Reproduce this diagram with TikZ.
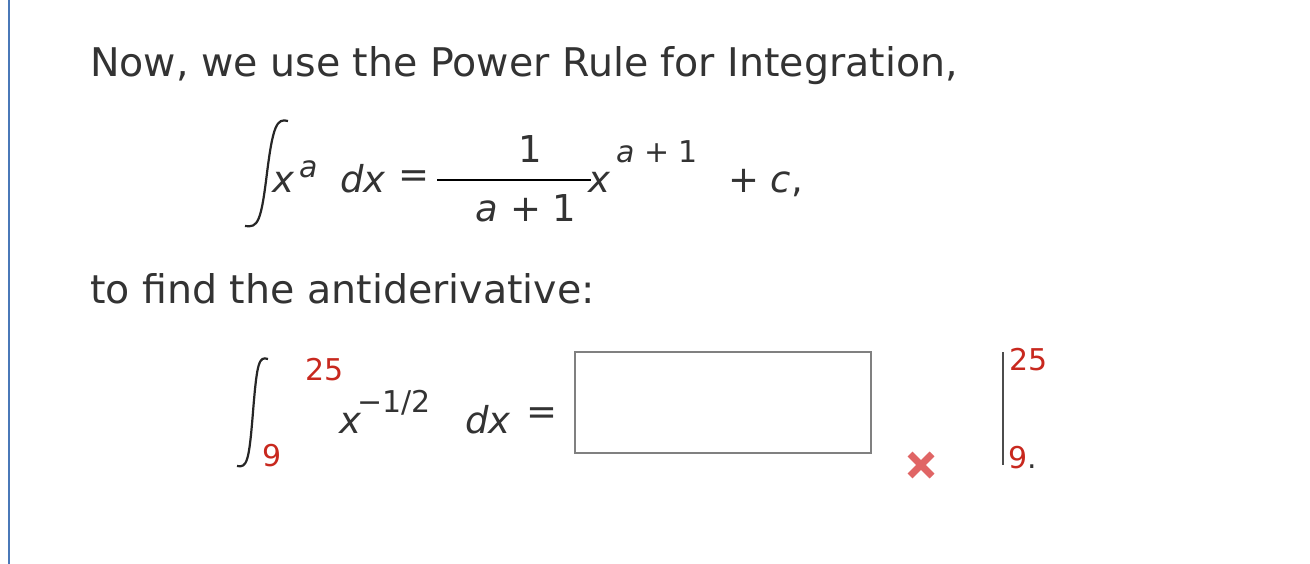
\documentclass[tikz,border=0pt]{standalone}
\usepackage{fontspec}
\setmainfont{DejaVu Sans}
\begin{document}
\begin{tikzpicture}[x=1pt,y=-1pt,
  txt/.style={anchor=base west,inner sep=0pt,text=black!80,font=\fontsize{39.5}{46}\selectfont},
  mt/.style={anchor=base west,inner sep=0pt,text=black!80,font=\fontsize{37}{44}\selectfont},
  sup/.style={anchor=base west,inner sep=0pt,text=black!80,font=\fontsize{30}{36}\selectfont},
  lim/.style={anchor=base west,inner sep=0pt,text=limred,font=\fontsize{30}{36}\selectfont},
  intg/.style={line width=2.2pt,black!85}]
\definecolor{limred}{HTML}{C8281E}
\definecolor{xred}{HTML}{E06565}
\definecolor{barblue}{HTML}{4A78B8}
\useasboundingbox (0,0) rectangle (1310,564);
\fill[white] (0,0) rectangle (1310,564);
\draw[barblue,line width=2pt] (9,0) -- (9,564);
\node[txt] (l1) at (90,77) {Now, we use the Power Rule for Integration,};
% integral 1
\draw[intg] (288,121) .. controls (277,118) and (273,125) .. (267,173) .. controls (261,222) and (258,228) .. (245,226);
\node[mt] (x1) at (272,193) {\itshape x};
\node[sup] (a1) at (299,178) {\itshape a};
\node[mt] (dx1) at (340,193) {\itshape dx};
\node[mt] (eq1) at (398,188) {=};
\draw[black,line width=2pt] (437,180) -- (591,180);
\node[mt,anchor=base] (one) at (530,163) {1};
\node[mt,anchor=base] (den) at (526,222) {\itshape a\upshape\ + 1};
\node[mt] (x2) at (588,193) {\itshape x};
\node[sup] (a2) at (616,163) {\itshape a\upshape\ + 1};
\node[mt] (c1) at (728,193) {+ \itshape c\upshape,};
\node[txt] (l2) at (90,303) {to find the antiderivative:};
% integral 2
\draw[intg] (268,359) .. controls (259,356) and (257,362) .. (253,412) .. controls (249,462) and (247,468) .. (237,466);
\node[lim] (u1) at (305,380) {25};
\node[lim] (d1) at (262,466) {9};
\node[mt] (x3) at (339,433) {\itshape x};
\node[sup] (e3) at (357,412) {−1/2};
\node[mt] (dx3) at (465,433) {\itshape dx};
\node[mt] (eq3) at (526,424) {=};
\draw[black!50,line width=2.2pt] (575,352) rectangle (871,453) node[midway,draw=none] (box) {};
\draw[xred,line width=7pt] (910,454) -- (932,476) (910,476) -- (932,454);
\node (xm) at (921,465) {};
\draw[black!70,line width=1.5pt] (1003,352) -- (1003,465);
\node[lim] (u2) at (1009,370) {25};
\node[lim] (d2) at (1008,468) {9\textcolor{black!80}{.}};
\end{tikzpicture}
\end{document}
